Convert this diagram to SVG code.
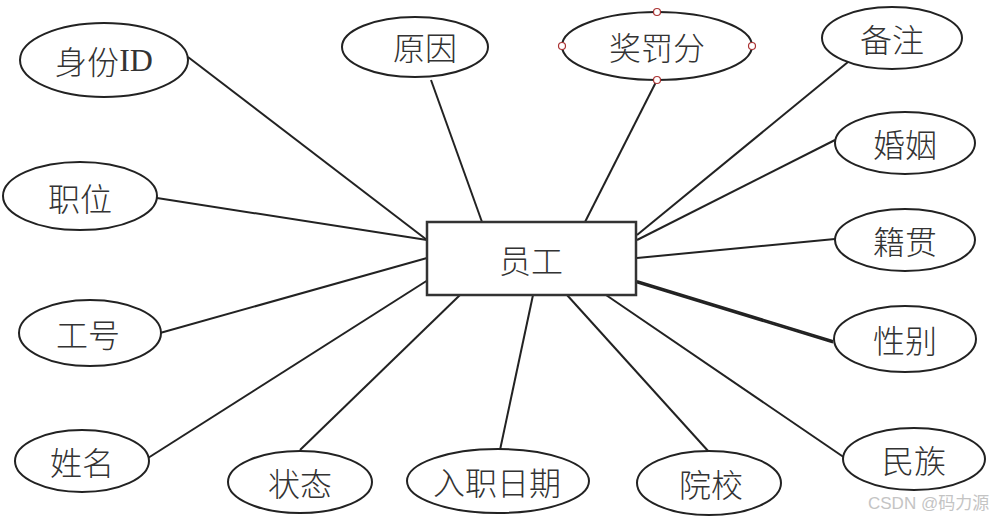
<svg xmlns="http://www.w3.org/2000/svg" width="1003" height="523" viewBox="0 0 1003 523">
<style>
.n ellipse{fill:#fff;stroke:#222;stroke-width:2}
.n rect{fill:#fff;stroke:#333;stroke-width:2.5}
.n text{font-family:"Noto Sans CJK SC","Liberation Sans",sans-serif;font-size:32px;font-weight:300;fill:#333;text-anchor:middle;dominant-baseline:central}
.c line{stroke:#222;stroke-width:2}
.h{fill:#fff;stroke:#a33;stroke-width:1.2}
.wm{font-family:"Liberation Sans","Noto Sans CJK SC",sans-serif;font-size:17px;fill:#c4c4c4}
</style>
<rect width="1003" height="523" fill="#fff"/>
<g id="connectors" class="c">
<line x1="188" y1="57" x2="427" y2="240"/>
<line x1="431" y1="80" x2="482" y2="222"/>
<line x1="657" y1="80" x2="585" y2="222"/>
<line x1="848" y1="62" x2="637" y2="235"/>
<line x1="835" y1="140" x2="637" y2="240"/>
<line x1="835" y1="239" x2="637" y2="258"/>
<line x1="637" y1="282.5" x2="833" y2="342.5" stroke="#f3e2e2" stroke-width="3"/>
<line x1="637" y1="281" x2="833" y2="341"/>
<line x1="845" y1="458" x2="606" y2="295"/>
<line x1="709" y1="452" x2="567" y2="295"/>
<line x1="500" y1="450" x2="533" y2="295"/>
<line x1="300" y1="450" x2="460" y2="295"/>
<line x1="148" y1="458" x2="428" y2="280"/>
<line x1="160" y1="333" x2="427" y2="258"/>
<line x1="157" y1="198" x2="427" y2="240"/>
</g>
<g id="yuangong" class="n"><rect x="427" y="222" width="209" height="73"/><text x="531" y="259">员工</text></g>
<g id="shenfenid" class="n"><ellipse cx="104" cy="60" rx="84" ry="37"/><text x="104" y="60">身份<tspan font-family="Liberation Serif, serif" font-weight="normal">ID</tspan></text></g>
<g id="yuanyin" class="n"><ellipse cx="415" cy="47" rx="73" ry="30"/><text x="425" y="46">原因</text></g>
<g id="jiangfafen" class="n"><ellipse cx="657" cy="46" rx="95" ry="34"/><text x="657" y="46">奖罚分</text>
<circle class="h" cx="657" cy="12" r="3.5"/><circle class="h" cx="562" cy="46" r="3.5"/><circle class="h" cx="752" cy="46" r="3.5"/><circle class="h" cx="657" cy="80" r="3.5"/></g>
<g id="beizhu" class="n"><ellipse cx="892" cy="38" rx="70" ry="31"/><text x="892" y="38">备注</text></g>
<g id="hunyin" class="n"><ellipse cx="905" cy="143" rx="70" ry="31"/><text x="905" y="143">婚姻</text></g>
<g id="jiguan" class="n"><ellipse cx="905" cy="240" rx="70" ry="31"/><text x="905" y="240">籍贯</text></g>
<g id="xingbie" class="n"><ellipse cx="905" cy="339" rx="71" ry="33"/><text x="905" y="339">性别</text></g>
<g id="minzu" class="n"><ellipse cx="914" cy="459" rx="71" ry="31"/><text x="914" y="459">民族</text></g>
<g id="yuanxiao" class="n"><ellipse cx="709" cy="483" rx="72" ry="32"/><text x="711" y="483">院校</text></g>
<g id="ruzhiriqi" class="n"><ellipse cx="498" cy="481" rx="91" ry="32"/><text x="497" y="481">入职日期</text></g>
<g id="zhuangtai" class="n"><ellipse cx="300" cy="482" rx="72" ry="31"/><text x="300" y="482">状态</text></g>
<g id="xingming" class="n"><ellipse cx="82" cy="461" rx="67" ry="31"/><text x="82" y="461">姓名</text></g>
<g id="gonghao" class="n"><ellipse cx="90" cy="333" rx="71" ry="33"/><text x="88" y="333">工号</text></g>
<g id="zhiwei" class="n"><ellipse cx="80" cy="196" rx="77" ry="34"/><text x="80" y="197">职位</text></g>
<text class="wm" x="868" y="509">CSDN @码力源</text>
</svg>
